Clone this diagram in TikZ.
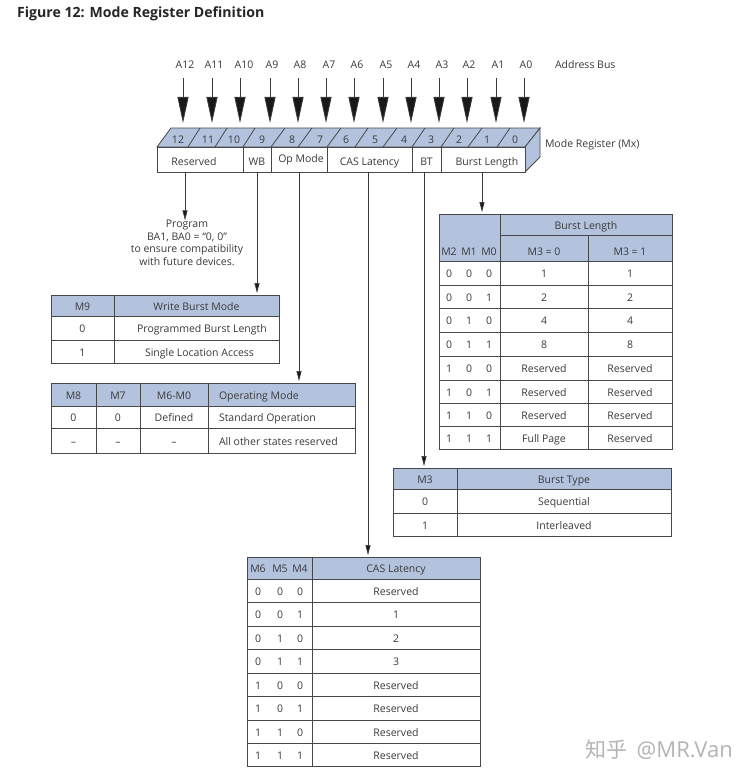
\documentclass[tikz,border=0pt]{standalone}
\usepackage{fontspec}
\setmainfont{Open Sans}
\newfontfamily\cjkwm{Noto Sans CJK SC}
\usetikzlibrary{arrows.meta}
\definecolor{hdr}{HTML}{B3C3DE}
\definecolor{ink}{HTML}{3A3A3A}
\definecolor{rule}{HTML}{484848}
\definecolor{wm}{HTML}{B4B4B4}
\newcommand{\shifted}[2]{\makebox[0pt][c]{\hspace*{#1pt}\hspace*{#1pt}#2}}
\newcommand{\leftat}[2]{\makebox[0pt][l]{\hspace*{#1pt}#2}}
\tikzset{
  lab/.style={font=\fontsize{10.5}{12}\selectfont,text=ink,inner sep=0pt,outer sep=0pt,text height=9.5pt,text depth=0pt},
  tbox/.style={lab,draw=rule,line width=0.7pt,anchor=center},
  plain/.style={tbox,fill=white},
  head/.style={tbox,fill=hdr},
  busarrow/.style={draw=ink,line width=0.8pt,-{Triangle[width=11pt,length=26pt,fill=black!90]},shorten <=9.25pt,shorten >=5pt},
  conn/.style={draw=ink,line width=0.7pt,-{Triangle[width=5pt,length=10pt,fill=black!90]},shorten >=2pt},
  edge/.style={draw=rule,line width=0.8pt}
}
% \tcell{style}{name}{x0}{x1}{y0}{y1}{text}
\newcommand{\tcell}[7]{%
  \pgfmathsetmacro{\cw}{#4-(#3)}\pgfmathsetmacro{\ch}{#6-(#5)}%
  \node[#1,minimum width=\cw pt,minimum height=\ch pt] (#2) at ({(#3+#4)/2},{(#5+#6)/2}) {#7};}
\begin{document}
\begin{tikzpicture}[x=1pt,y=-1pt]
\useasboundingbox (0,0) rectangle (751,781);
\fill[white] (0,0) rectangle (751,781);

% title
\node[anchor=west,inner sep=0pt,text=black!85,font=\fontsize{14.1}{15}\selectfont\bfseries] (title) at (17,14) {Figure 12: Mode Register Definition};

% address bus labels
\foreach \nm/\x in {A12/185,A11/214,A10/244,A9/272,A8/300,A7/329,A6/357,A5/386,A4/414,A3/442,A2/469,A1/498,A0/526}
  \node[lab] (\nm) at (\x,64) {\nm};
\node[lab,anchor=west] (busname) at (555,64) {Address Bus};

% register body
\path[edge,fill=hdr] (157,147) -- (171,128) -- (540,128) -- (525,147) -- cycle;
\path[edge,fill=hdr] (525,147) -- (540,128) -- (540,157) -- (525,172) -- cycle;
\foreach \a/\b in {188/200,215/227,243/255,271/285,298/312,327/341,355/368,383/397,412/425,441/454,468/482,497/510}
  \draw[edge] (\a,147) -- (\b,128);
\foreach \nm/\t/\x in {c12/12/178,c11/11/208,c10/10/234,c9/9/262,c8/8/292,c7/7/320,c6/6/346,c5/5/375,c4/4/404,c3/3/431,c2/2/459,c1/1/487,c0/0/515}
  \node[lab] (\nm) at (\x,139) {\t};
\tcell{plain}{fres}{157}{243}{147}{172}{\raisebox{-1.5pt}{\shifted{-6}{Reserved}}}
\tcell{plain}{fwb}{243}{271}{147}{172}{\raisebox{-1.5pt}{WB}}
\tcell{plain}{fop}{271}{327}{147}{172}{\raisebox{1.5pt}{\shifted{2}{Op Mode}}}
\tcell{plain}{fcas}{327}{412}{147}{172}{\raisebox{-1.5pt}{CAS Latency}}
\tcell{plain}{fbt}{412}{441}{147}{172}{\raisebox{-1.5pt}{BT}}
\tcell{plain}{fbl}{441}{525}{147}{172}{\raisebox{-1.5pt}{\shifted{4}{Burst Length}}}
\node[lab,anchor=west] (regname) at (545,143) {Mode Register (Mx)};
\coordinate (regtop) at (300,128);

% bus arrows
\foreach \nm/\x in {A12/183,A11/212,A10/240,A9/270,A8/298,A7/326,A6/354,A5/383,A4/411,A3/439,A2/467,A1/496,A0/524}
  \draw[busarrow] (\x,0 |- \nm.south) -- (\x,0 |- regtop);

% note
\node[lab,align=center,text height=,text depth=,font=\fontsize{10.5}{12.6}\selectfont] (note) at (187,243)
  {Program\\BA1, BA0 = “0, 0”\\to ensure compatibility\\with future devices.};

% Write Burst Mode table
\tcell{head}{wbh1}{51}{114}{295}{316}{M9}
\tcell{head}{wbh2}{114}{279}{295}{316}{Write Burst Mode}
\tcell{plain}{wba1}{51}{114}{316}{340}{0}
\tcell{plain}{wbb1}{114}{279}{316}{340}{\shifted{5.5}{Programmed Burst Length}}
\tcell{plain}{wba2}{51}{114}{340}{363}{1}
\tcell{plain}{wbb2}{114}{279}{340}{363}{\shifted{3}{Single Location Access}}

% Operating Mode table
\tcell{head}{oph1}{51}{96}{383}{406}{M8}
\tcell{head}{oph2}{96}{140}{383}{406}{M7}
\tcell{head}{oph3}{140}{208}{383}{406}{M6-M0}
\tcell{head}{oph4}{208}{355}{383}{406}{\leftat{-62.5}{Operating Mode}}
\tcell{plain}{opa1}{51}{96}{406}{428}{0}
\tcell{plain}{opa2}{96}{140}{406}{428}{0}
\tcell{plain}{opa3}{140}{208}{406}{428}{Defined}
\tcell{plain}{opa4}{208}{355}{406}{428}{\leftat{-62.5}{Standard Operation}}
\tcell{plain}{opb1}{51}{96}{428}{453}{–}
\tcell{plain}{opb2}{96}{140}{428}{453}{–}
\tcell{plain}{opb3}{140}{208}{428}{453}{–}
\tcell{plain}{opb4}{208}{355}{428}{453}{\leftat{-62.5}{All other states reserved}}

% Burst Length table
\tcell{head}{blh0}{439}{500}{214}{261}{}
\tcell{head}{blh1}{500}{672}{214}{235}{Burst Length}
\tcell{head}{blh2}{500}{588}{235}{261}{\raisebox{-3pt}{M3 = 0}}
\tcell{head}{blh3}{588}{672}{235}{261}{\raisebox{-3pt}{M3 = 1}}
\node[lab] (blm2) at (449,251) {M2};
\node[lab] (blm1) at (469,251) {M1};
\node[lab] (blm0) at (489,251) {M0};
\foreach \i/\ya/\yb/\p/\q/\r/\u/\v in {
  1/261/285/0/0/0/1/1, 2/285/308/0/0/1/2/2, 3/308/332/0/1/0/4/4, 4/332/356/0/1/1/8/8,
  5/356/380/1/0/0/Reserved/Reserved, 6/380/403/1/0/1/Reserved/Reserved,
  7/403/426/1/1/0/Reserved/Reserved, 8/426/449/1/1/1/Full Page/Reserved}{
  \tcell{plain}{bla\i}{439}{500}{\ya}{\yb}{}
  \tcell{plain}{blb\i}{500}{588}{\ya}{\yb}{\u}
  \tcell{plain}{blc\i}{588}{672}{\ya}{\yb}{\v}
  \node[lab] (blp\i) at (449,{(\ya+\yb)/2}) {\p};
  \node[lab] (blq\i) at (469,{(\ya+\yb)/2}) {\q};
  \node[lab] (blr\i) at (489,{(\ya+\yb)/2}) {\r};
}

% Burst Type table
\tcell{head}{bth1}{393}{457}{468}{489}{M3}
\tcell{head}{bth2}{457}{671}{468}{489}{Burst Type}
\tcell{plain}{bta1}{393}{457}{489}{513}{0}
\tcell{plain}{bta2}{457}{671}{489}{513}{Sequential}
\tcell{plain}{btb1}{393}{457}{513}{536}{1}
\tcell{plain}{btb2}{457}{671}{513}{536}{Interleaved}

% CAS Latency table
\tcell{head}{clh0}{247}{312}{557}{579}{}
\tcell{head}{clh1}{312}{480}{557}{579}{CAS Latency}
\node[lab] (clm6) at (258,568) {M6};
\node[lab] (clm5) at (280,568) {M5};
\node[lab] (clm4) at (300,568) {M4};
\foreach \i/\ya/\yb/\p/\q/\r/\u in {
  1/579/602/0/0/0/Reserved, 2/602/626/0/0/1/1, 3/626/649/0/1/0/2, 4/649/673/0/1/1/3,
  5/673/696/1/0/0/Reserved, 6/696/720/1/0/1/Reserved, 7/720/743/1/1/0/Reserved, 8/743/766/1/1/1/Reserved}{
  \tcell{plain}{cla\i}{247}{312}{\ya}{\yb}{}
  \tcell{plain}{clb\i}{312}{480}{\ya}{\yb}{\u}
  \node[lab] (clp\i) at (258,{(\ya+\yb)/2}) {\p};
  \node[lab] (clq\i) at (280,{(\ya+\yb)/2}) {\q};
  \node[lab] (clr\i) at (300,{(\ya+\yb)/2}) {\r};
}

% connectors
\draw[conn,shorten >=0pt] ([xshift=-15pt]fres.south) -- ([xshift=-15pt]fres.south |- note.north);
\draw[conn] (fwb.south) -- (fwb.south |- wbh2.north);
\draw[conn] (fop.south) -- (fop.south |- oph4.north);
\draw[conn] ([xshift=-1.5pt]fcas.south) -- ([xshift=-1.5pt]fcas.south |- clh1.north);
\draw[conn] ([xshift=-2.5pt]fbt.south) -- ([xshift=-2.5pt]fbt.south |- bth1.north);
\draw[conn] ([xshift=-1pt]fbl.south) -- ([xshift=-1pt]fbl.south |- blh0.north);

% watermark
\node[anchor=east,inner sep=0pt,text=wm,font=\fontsize{22}{24}\selectfont] (mark) at (733,750) {{\cjkwm\fontsize{21}{24}\selectfont 知乎}\hspace{3pt} @MR.Van};
\end{tikzpicture}
\end{document}
